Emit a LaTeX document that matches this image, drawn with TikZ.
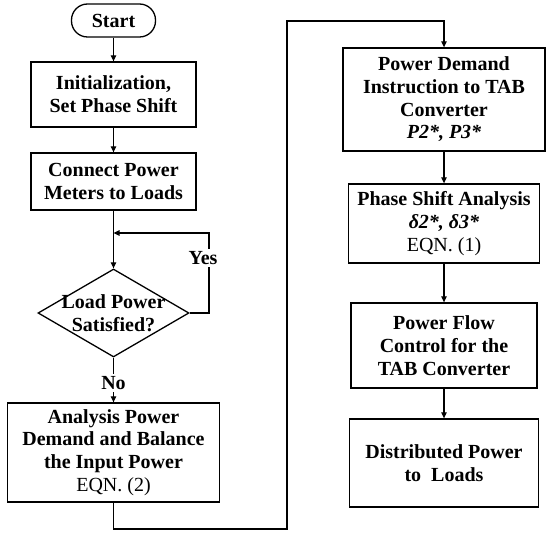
\documentclass[tikz,border=0pt]{standalone}
\usepackage{fontspec}
\setmainfont{Liberation Serif}
\usetikzlibrary{arrows.meta,shapes.geometric,positioning}
\begin{document}
\begin{tikzpicture}[x=1pt,y=-1pt,
  box/.style={draw,line width=1.3pt,align=center,inner sep=0pt,font=\fontsize{20}{22.7}\selectfont\bfseries},
  lbl/.style={align=center,inner sep=1pt,font=\fontsize{20}{22.7}\selectfont\bfseries},
  arr/.style={line width=1.2pt,-{Triangle[length=6pt,width=5.5pt]}},
  ln/.style={line width=1.2pt}]
\useasboundingbox[fill=white] (0,0) rectangle (550,537);
% left column
\node[box,rounded corners=16pt,minimum width=84pt,minimum height=33pt] (start) at (113.5,20.5) {Start};
\node[box,minimum width=165pt,minimum height=65pt] (init) at (113.5,94.5) {Initialization,\\Set Phase Shift};
\node[box,minimum width=165pt,minimum height=57pt] (conn) at (113.5,181.5) {Connect Power\\Meters to Loads};
\node[draw,diamond,line width=1.3pt,minimum width=151pt,minimum height=88pt,inner sep=0pt] (dec) at (113.5,313) {};
\node[lbl] (dectext) at (dec.center) {Load Power\\Satisfied?};
\node[box,minimum width=212pt,minimum height=99pt] (anal) at (113.5,452.5) {Analysis Power\\Demand and Balance\\the Input Power\\{\mdseries EQN. (2)}};
% right column
\node[box,minimum width=202pt,minimum height=103pt] (pd) at (444,99.5) {Power Demand\\Instruction to TAB\\Converter\\{\itshape P2*, P3*}};
\node[box,minimum width=191pt,minimum height=79pt] (ps) at (444,223.5) {Phase Shift Analysis\\{\itshape δ2*, δ3*}\\{\mdseries EQN. (1)}};
\node[box,minimum width=186pt,minimum height=85pt] (pf) at (444,345.5) {Power Flow\\Control for the\\TAB Converter};
\node[box,minimum width=189pt,minimum height=88pt] (dist) at (444,463) {Distributed Power\\to~ Loads};
% coordinates
\coordinate (ycorner) at (209,233);
\coordinate (ymerge) at (113.5,233);
\coordinate (c1) at (287,529);
\coordinate (c2) at (287,21);
% connectors
\draw[arr] (start) -- (init);
\draw[arr] (init) -- (conn);
\draw[arr] (conn) -- (dec);
\draw[arr] (dec.east) -| (ycorner) -- (ymerge);
\node[lbl,fill=white,inner sep=2pt] (yes) at (203,258) {Yes};
\draw[arr] (dec.south) -- (anal.north);
\node[lbl,fill=white,inner sep=2pt] (no) at (113.5,383) {No};
\draw[arr] (anal.south) |- (c1) -- (c2) -| (pd.north);
\draw[arr] (pd) -- (ps);
\draw[arr] (ps) -- (pf);
\draw[arr] (pf) -- (dist);
\end{tikzpicture}
\end{document}
